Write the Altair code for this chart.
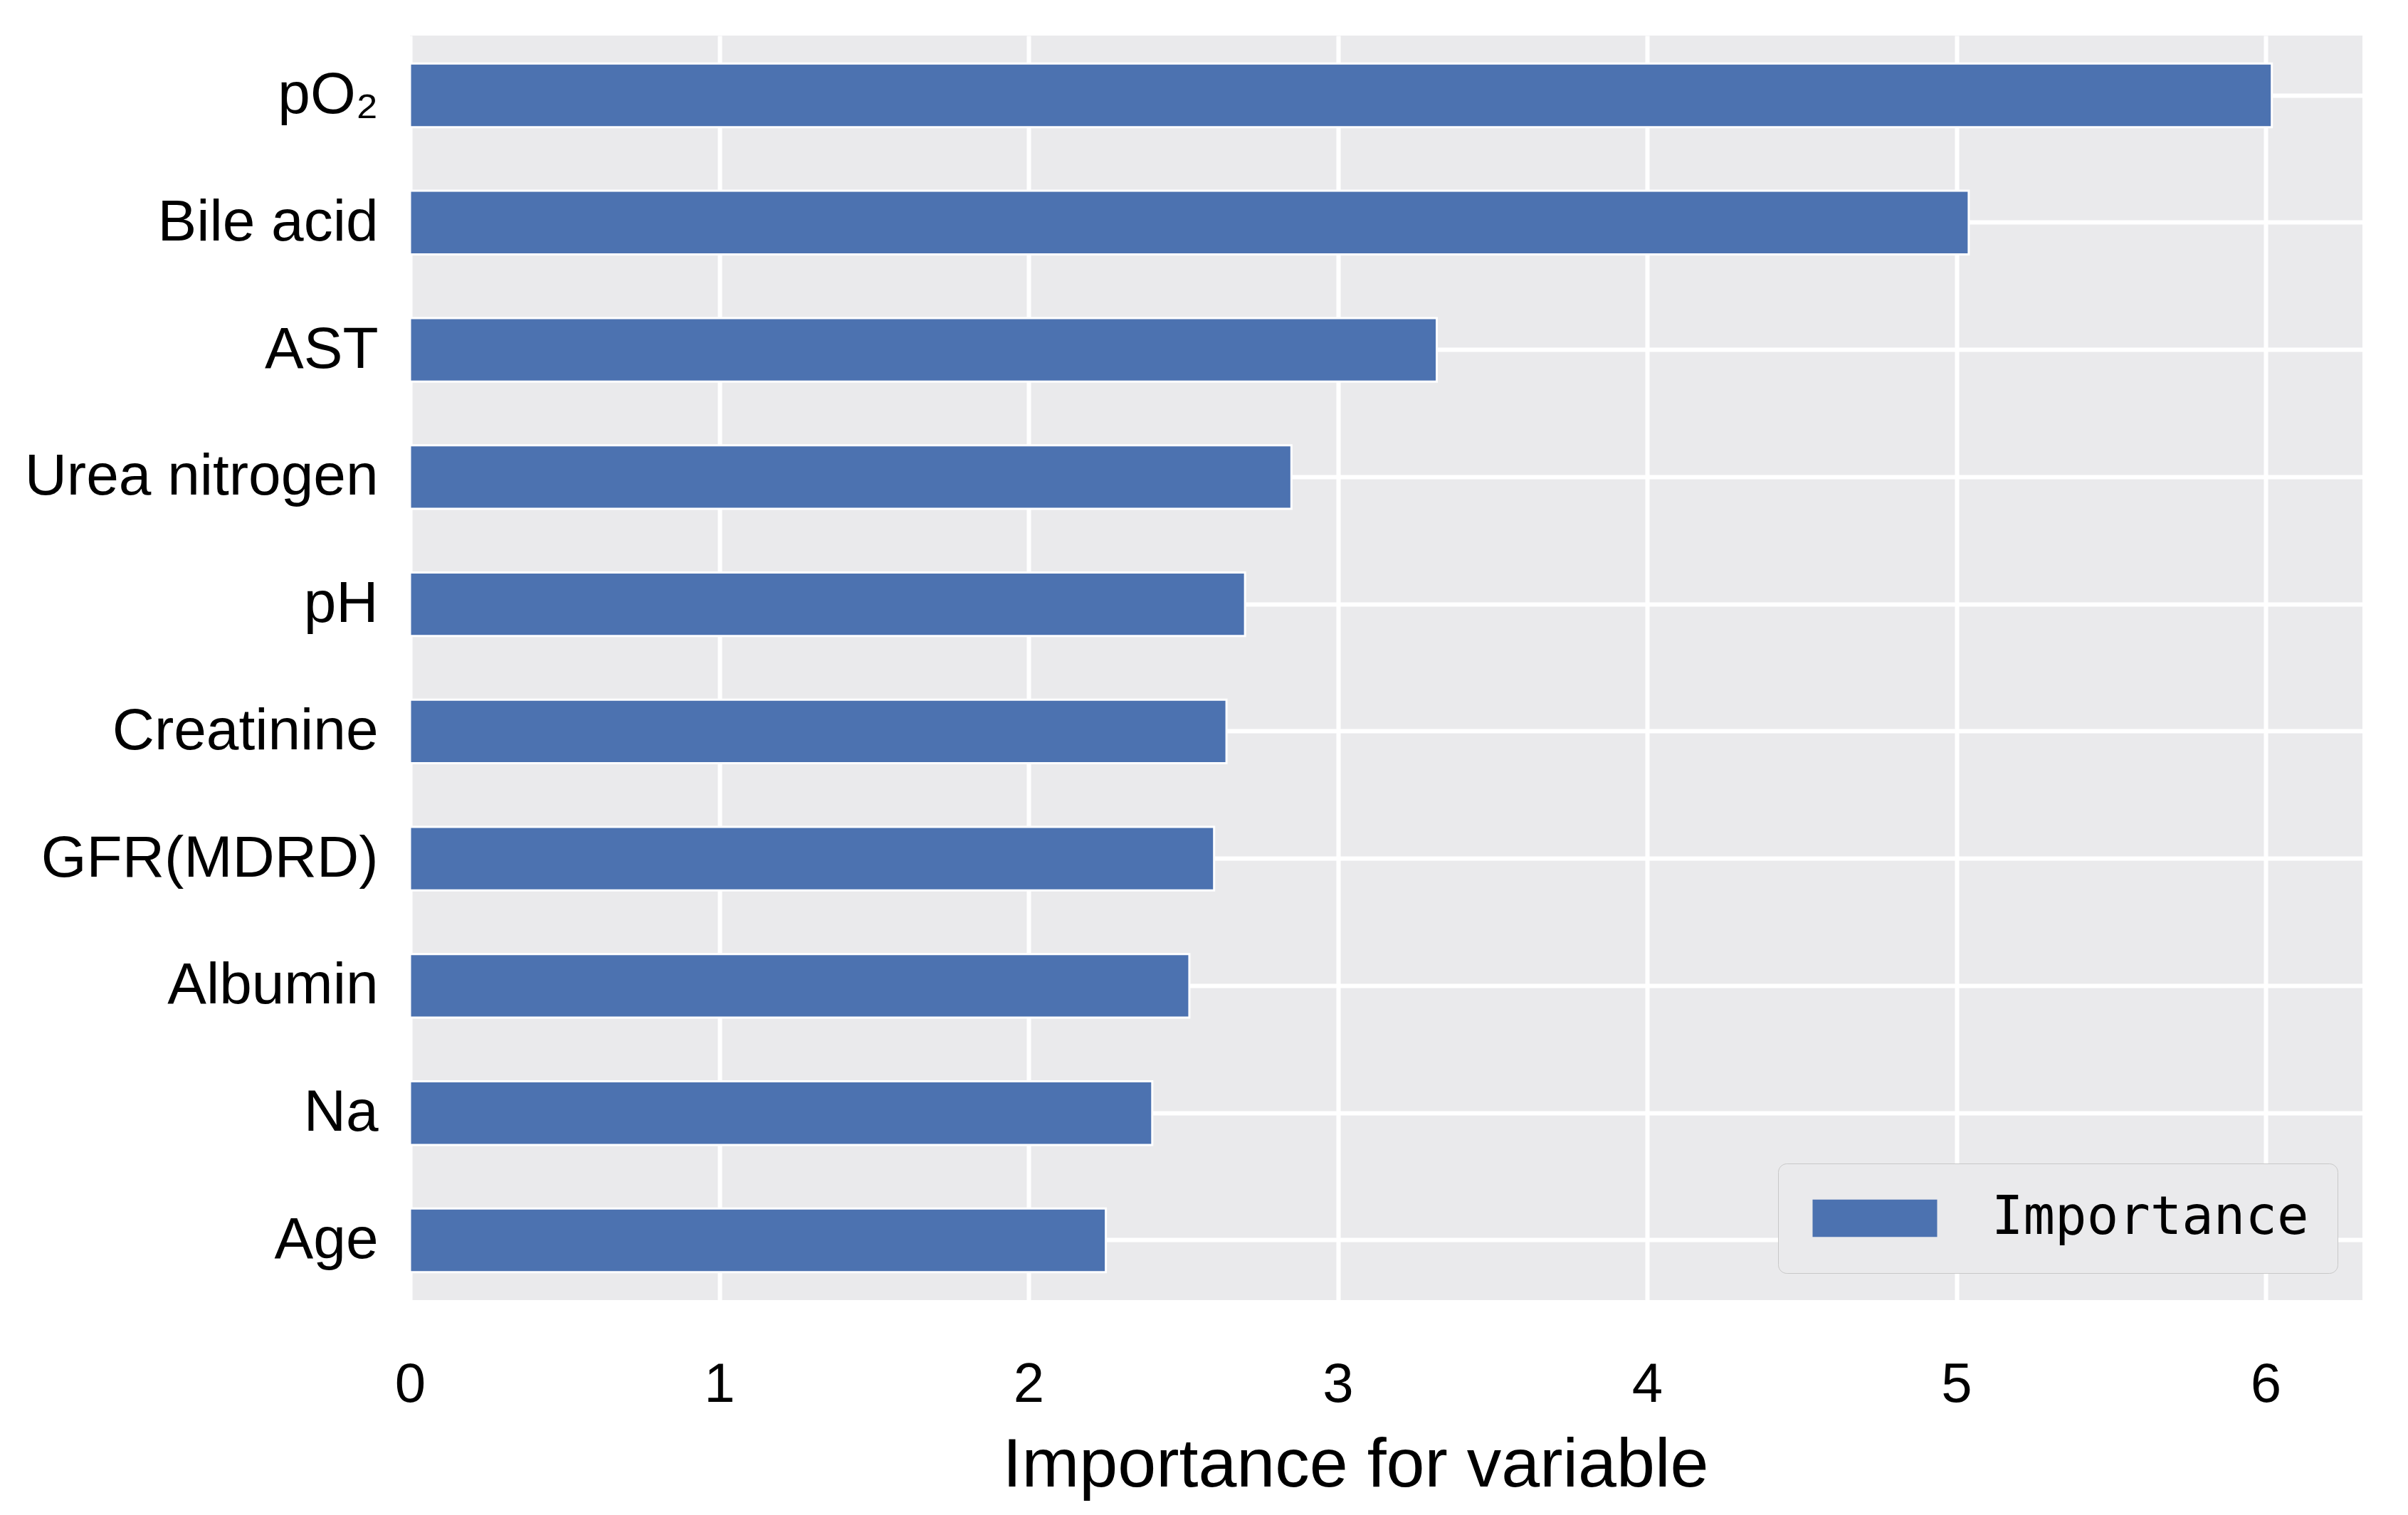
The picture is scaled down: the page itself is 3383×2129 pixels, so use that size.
import altair as alt
import pandas as pd

variables = ["pO₂", "Bile acid", "AST", "Urea nitrogen", "pH", "Creatinine",
             "GFR(MDRD)", "Albumin", "Na", "Age"]
importance = [6.02, 5.04, 3.32, 2.85, 2.70, 2.64, 2.60, 2.52, 2.40, 2.25]
series = ["Importance"] * len(variables)
x_ticks = [0, 1, 2, 3, 4, 5, 6]

df = pd.DataFrame({"variable": variables, "importance": importance, "series": series})

chart = alt.Chart(df).mark_bar(stroke="white", strokeWidth=3).encode(
    x=alt.X("importance:Q",
            scale=alt.Scale(domain=[0, 6.313], nice=False, zero=True),
            axis=alt.Axis(values=x_ticks, format="d", title="Importance for variable",
                          grid=True, gridColor="white", gridWidth=6,
                          domain=False, ticks=False, tickSize=0, labelFlush=False,
                          labelFont="Liberation Sans", labelFontSize=78, labelColor="black",
                          labelPadding=80,
                          titleFont="Liberation Sans", titleFontSize=97,
                          titleFontWeight="normal", titleColor="black",
                          titleX=1328, titleY=184, titleBaseline="top", titleAlign="center")),
    y=alt.Y("variable:N", sort=variables,
            scale=alt.Scale(paddingInner=0.5, paddingOuter=0.22),
            axis=alt.Axis(title=None, grid=True, gridColor="white", gridWidth=6,
                          domain=False, ticks=False, tickSize=0,
                          labelFont="Liberation Sans", labelFontSize=82, labelColor="black",
                          labelPadding=45, labelLimit=1000)),
    color=alt.Color("series:N",
                    scale=alt.Scale(domain=["Importance"], range=["#4C72B0"]),
                    legend=alt.Legend(title=None, orient="none", legendX=1922, legendY=1585,
                                      symbolType="M-3,-0.9H3V0.9H-3Z", symbolSize=3403,
                                      symbolOffset=59, symbolStrokeWidth=0,
                                      labelOffset=127,
                                      labelFont="DejaVu Sans Mono", labelFontSize=74,
                                      labelColor="black", labelLimit=1000,
                                      padding=40, fillColor="#EAEAEC",
                                      strokeColor="#C8C8C8", cornerRadius=12)),
).properties(
    width=2743, height=1777,
    autosize=alt.AutoSizeParams(type="none"),
    padding={"left": 568, "top": 42, "right": 50, "bottom": 300},
).configure(
    background="white",
    view=alt.ViewConfig(fill="#EAEAEC", stroke=None),
)

chart.save("out.html", embed_options={"renderer": "svg", "actions": False})
